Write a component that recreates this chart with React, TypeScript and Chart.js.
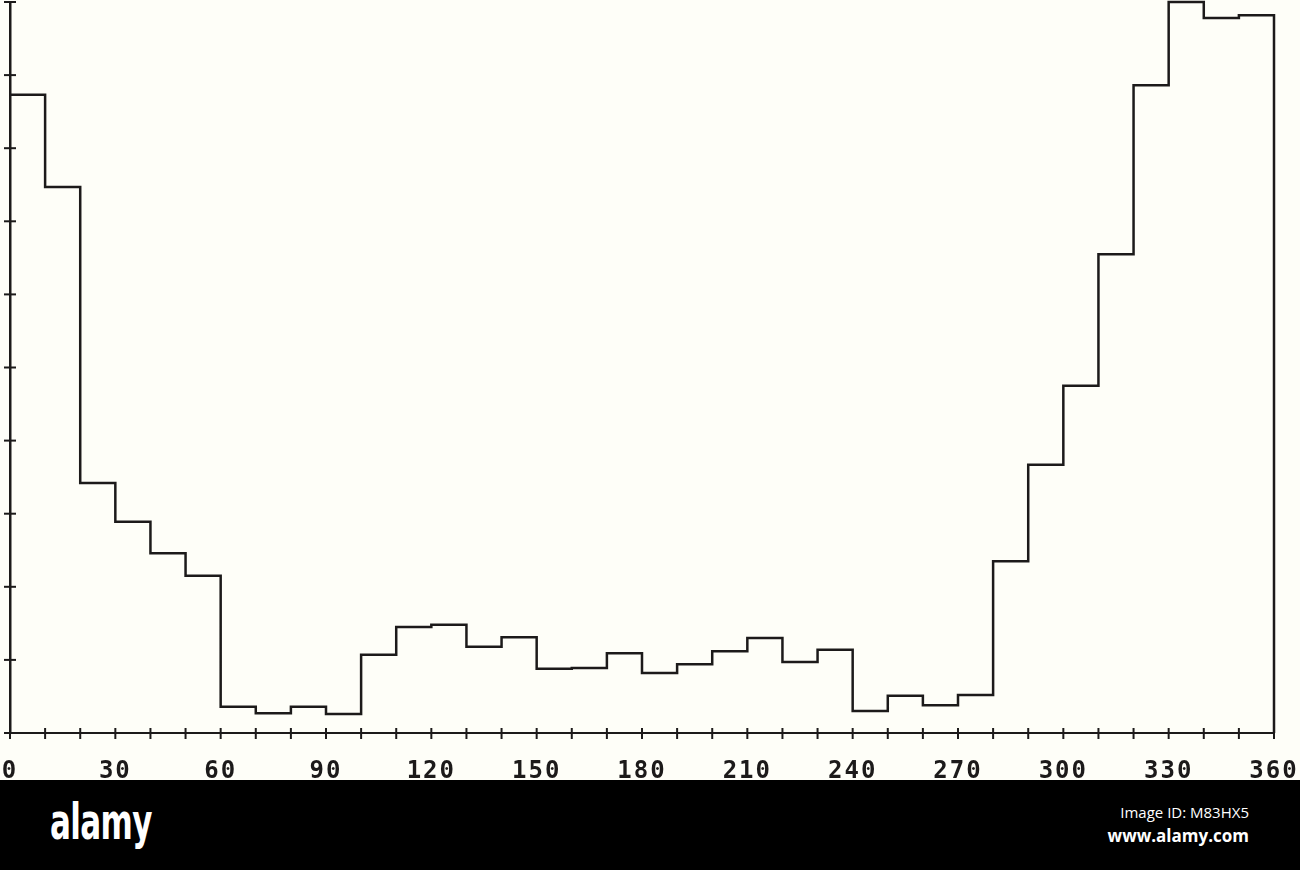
import React, { useEffect, useRef } from "react";
import { Chart, registerables } from "chart.js";

Chart.register(...registerables);

// Bin left edges (degrees) and the histogram heights (in y-tick units)
const binEdges = [
  0, 10, 20, 30, 40, 50, 60, 70, 80, 90, 100, 110, 120, 130, 140, 150, 160, 170,
  180, 190, 200, 210, 220, 230, 240, 250, 260, 270, 280, 290, 300, 310, 320, 330,
  340, 350,
];
const binValues = [
  8.73, 7.47, 3.42, 2.89, 2.46, 2.15, 0.36, 0.27, 0.36, 0.26, 1.07, 1.45, 1.48,
  1.18, 1.31, 0.88, 0.89, 1.09, 0.82, 0.94, 1.12, 1.3, 0.97, 1.14, 0.3, 0.51,
  0.38, 0.52, 2.35, 3.67, 4.75, 6.55, 8.86, 10.0, 9.78, 9.82,
];
const xEnd = 360;
const xLabelValues = [0, 30, 60, 90, 120, 150, 180, 210, 240, 270, 300, 330, 360];

const INK = "#1c1a1a";

const crossTicks = {
  id: "crossTicks",
  beforeDraw(chart: any) {
    try {
      chart.ctx.letterSpacing = "2px";
    } catch (e) {}
  },
  afterDraw(chart: any) {
    const { ctx, chartArea, scales } = chart;
    const xs = scales.x;
    const ys = scales.y;
    ctx.save();
    ctx.strokeStyle = INK;
    ctx.lineWidth = 2;
    xs.ticks.forEach((t: any) => {
      const px = xs.getPixelForValue(t.value);
      ctx.beginPath();
      ctx.moveTo(px, chartArea.bottom - 5);
      ctx.lineTo(px, chartArea.bottom + 6);
      ctx.stroke();
    });
    ys.ticks.forEach((t: any) => {
      const py = ys.getPixelForValue(t.value);
      ctx.beginPath();
      ctx.moveTo(chartArea.left - 6, py);
      ctx.lineTo(chartArea.left + 6, py);
      ctx.stroke();
    });
    ctx.restore();
  },
};

export default function App() {
  const ref = useRef<HTMLCanvasElement>(null);

  useEffect(() => {
    const pts: { x: number; y: number }[] = binEdges.map((e, i) => ({
      x: e,
      y: binValues[i],
    }));
    pts.push({ x: xEnd, y: binValues[binValues.length - 1] });
    pts.push({ x: xEnd, y: 0 });

    const chart = new Chart(ref.current as HTMLCanvasElement, {
      type: "line",
      data: {
        datasets: [
          {
            data: pts,
            stepped: "before",
            borderColor: INK,
            borderWidth: 2.5,
            pointRadius: 0,
            fill: false,
            clip: false as any,
          },
        ],
      },
      plugins: [crossTicks],
      options: {
        animation: false,
        responsive: false,
        maintainAspectRatio: false,
        layout: { padding: { top: 2, right: 26, left: 10, bottom: 0 } },
        plugins: { legend: { display: false }, tooltip: { enabled: false } },
        scales: {
          x: {
            type: "linear",
            min: 0,
            max: 360,
            afterFit: (s: any) => {
              s.height = 47;
              s.paddingLeft = 0;
              s.paddingRight = 0;
            },
            border: { display: true, color: INK, width: 2 },
            grid: { display: false, drawTicks: false },
            ticks: {
              stepSize: 10,
              autoSkip: false,
              maxRotation: 0,
              padding: 24,
              color: INK,
              font: { family: "'DejaVu Sans Mono', monospace", size: 24, weight: "bold" },
              callback: (v: any) =>
                xLabelValues.includes(Number(v)) ? String(v) : "",
            },
          },
          y: {
            type: "linear",
            min: 0,
            max: 10,
            afterFit: (s: any) => {
              s.width = 0;
            },
            border: { display: true, color: INK, width: 2.5 },
            grid: { display: false, drawTicks: false },
            ticks: { stepSize: 1, display: false },
          },
        },
      },
    });
    return () => chart.destroy();
  }, []);

  return (
    <div
      style={{
        position: "fixed",
        left: 0,
        top: 0,
        width: 1300,
        height: 870,
        background: "#000",
        overflow: "hidden",
      }}
    >
      <div style={{ width: 1300, height: 780, background: "#fefef8" }}>
        <canvas ref={ref} width={1300} height={780} style={{ display: "block" }} />
      </div>
      <div
        style={{
          position: "absolute",
          left: 50,
          top: 792,
          color: "#fff",
          fontFamily: "'DejaVu Sans', sans-serif",
          fontWeight: "bold",
          fontSize: 50,
          lineHeight: "60px",
          transform: "scaleX(0.62)",
          transformOrigin: "left top",
          letterSpacing: -1,
        }}
      >
        alamy
      </div>
      <div
        style={{
          position: "absolute",
          right: 51,
          top: 801,
          color: "#fff",
          textAlign: "right",
          fontFamily: "'Open Sans', sans-serif",
          lineHeight: "22px",
        }}
      >
        <div style={{ fontSize: 15 }}>Image ID: M83HX5</div>
        <div style={{ fontSize: 17, fontWeight: "bold", marginTop: 2 }}>www.alamy.com</div>
      </div>
    </div>
  );
}
